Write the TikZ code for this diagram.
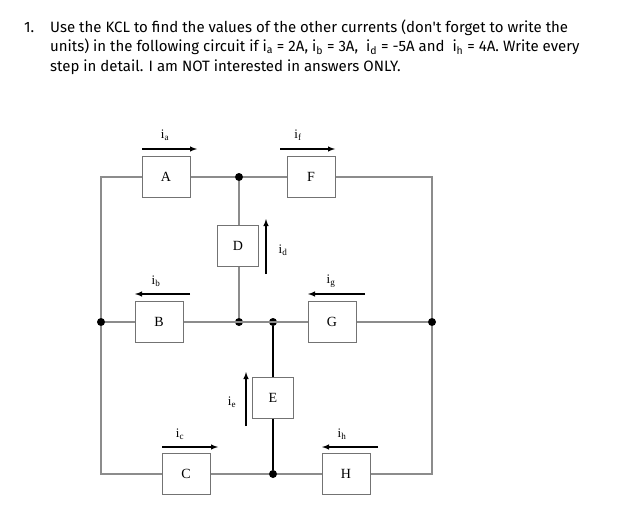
\documentclass[tikz,border=0pt]{standalone}
\usepackage{fontspec}
\setmainfont{Liberation Serif}
\newfontfamily\hdfont{Fira Sans}
\begin{document}
\begin{tikzpicture}[x=1pt,y=-1pt,
  wire/.style={draw=black!45,line width=1.1pt},
  dwire/.style={draw=black,line width=1.3pt},
  box/.style={draw=black!55,fill=white,line width=0.8pt,minimum width=48pt,minimum height=41pt,inner sep=0pt,font=\fontsize{14}{14}\selectfont},
  vbox/.style={box,minimum width=41pt},
  cur/.style={-latex,line width=1.4pt},
  lbl/.style={font=\fontsize{13}{13}\selectfont,inner sep=1pt},
  dot/.style={circle,fill=black,inner sep=0pt,minimum size=8pt},
  hd/.style={anchor=west,inner sep=0pt,font=\hdfont\fontsize{15}{15}\selectfont}]
\useasboundingbox (0,0) rectangle (618,527);
\node[hd] (t0) at (24,28) {1.};
\node[hd] (t1) at (50,28) {Use the KCL to find the values of the other currents (don't forget to write the};
\node[hd] (t2) at (50,47) {units) in the following circuit if i\textsubscript{a} = 2A, i\textsubscript{b} = 3A, \ i\textsubscript{d} = -5A and \ i\textsubscript{h} = 4A. Write every};
\node[hd] (t3) at (50,67) {step in detail. I am NOT interested in answers ONLY.};
% junctions
\coordinate (tl) at (101,177); \coordinate (tr) at (432,177);
\coordinate (bl) at (101,474); \coordinate (br) at (432,474);
\node[dot] (jt) at (239,177) {};
\node[dot] (jl) at (101,322) {};
\node[dot] (jm) at (239,322) {};
\node[dot] (jn) at (273,322) {};
\node[dot] (jr) at (432,322) {};
\node[dot] (jb) at (273,474) {};
% wires
\draw[wire] (jl) -- (tl) -- (jt) -- (tr) -- (jr) -- (br) -- (jb) -- (bl) -- (jl) -- (jr);
\draw[wire] (jt) -- (jm);
\draw[dwire] (jn) -- (jb);
% boxes
\node[box] (A) at (166,177) {A};
\node[box] (F) at (311,177) {F};
\node[vbox] (D) at (238,246) {D};
\node[box] (B) at (159,322) {B};
\node[box] (G) at (332,322) {G};
\node[vbox] (E) at (273,398) {E};
\node[box] (C) at (186,474) {C};
\node[box] (H) at (346,474) {H};
% currents
\coordinate (a1) at (142,149); \coordinate (a2) at (197,149);
\draw[cur] (a1) -- (a2); \node[lbl] (la) at (165,135) {i\textsubscript{a}};
\coordinate (f1) at (280,149); \coordinate (f2) at (335,149);
\draw[cur] (f1) -- (f2); \node[lbl] (lf) at (298,135) {i\textsubscript{f}};
\coordinate (d1) at (266,274); \coordinate (d2) at (266,219);
\draw[cur] (d1) -- (d2); \node[lbl] (ld) at (283,250) {i\textsubscript{d}};
\coordinate (b1) at (190,294); \coordinate (b2) at (135,294);
\draw[cur] (b1) -- (b2); \node[lbl] (lb) at (156,281) {i\textsubscript{b}};
\coordinate (g1) at (365,294); \coordinate (g2) at (308,294);
\draw[cur] (g1) -- (g2); \node[lbl] (lg) at (331,281) {i\textsubscript{g}};
\coordinate (e1) at (246,426); \coordinate (e2) at (246,372);
\draw[cur] (e1) -- (e2); \node[lbl] (le) at (232,402) {i\textsubscript{e}};
\coordinate (c1) at (162,447); \coordinate (c2) at (218,447);
\draw[cur] (c1) -- (c2); \node[lbl] (lc) at (180,434) {i\textsubscript{c}};
\coordinate (h1) at (378,447); \coordinate (h2) at (322,447);
\draw[cur] (h1) -- (h2); \node[lbl] (lh) at (342,434) {i\textsubscript{h}};
\end{tikzpicture}
\end{document}
